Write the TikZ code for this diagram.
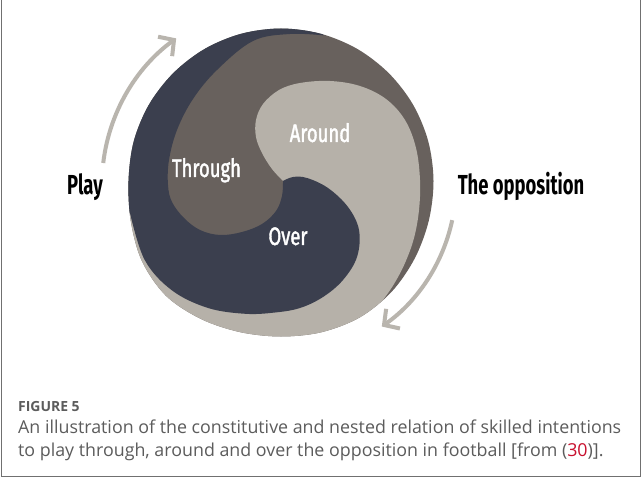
\documentclass[tikz,border=0pt]{standalone}
\usepackage{fontspec}
\setmainfont{Open Sans}
\newfontfamily\wlblfont[FakeStretch=0.73,FakeBold=1.5]{Fira Sans}
\newfontfamily\blblfont[FakeStretch=0.67]{Fira Sans}
\newfontfamily\capfont{Open Sans}
\usetikzlibrary{arrows.meta}
\definecolor{navy}{HTML}{3B3F4E}
\definecolor{dkgray}{HTML}{68615D}
\definecolor{ltgray}{HTML}{B6B1A9}
\definecolor{arrowgray}{HTML}{B9B5AE}
\definecolor{capgray}{HTML}{5C5C5C}
\definecolor{refred}{HTML}{C8102E}
\definecolor{framegray}{HTML}{707070}
\tikzset{
  whitelbl/.style={anchor=base, inner sep=0pt, text=white, font=\wlblfont\fontsize{25.4}{28}\selectfont},
  blacklbl/.style={anchor=base, inner sep=0pt, text=black, font=\blblfont\bfseries\fontsize{27.6}{30}\selectfont},
  captext/.style={anchor=base west, inner sep=0pt, text=capgray, font=\capfont\fontsize{17.9}{21}\selectfont},
  caphead/.style={anchor=base west, inner sep=0pt, text=capgray, font=\capfont\bfseries\fontsize{14}{16}\selectfont},
  turnarrow/.style={draw=arrowgray, line width=4bp, -{Straight Barb[length=11bp,width=24bp,line width=4bp]}},
}
\newcommand{\silpath}{plot[smooth cycle, tension=0.55] coordinates {(433.5,181) (428.8,220.6) (414.8,258.3) (391.7,291.7) (359.75,317.4) (321.5,332.2) (281,336.5) (240.5,332.2) (201.25,319.1) (166.1,295.9) (142,261.25) (130.8,221.2) (128.5,181) (133.7,141.5) (148.9,104.75) (173.2,73.2) (204.75,48.9) (241.5,33.7) (281,28.5) (320.5,33.7) (357.25,48.9) (388.8,73.2) (413.1,104.75) (428.3,141.5)}}
\begin{document}
\begin{tikzpicture}[x=1bp,y=-1bp]
\useasboundingbox (0,0) rectangle (642,482);
\fill[white] (0,0) rectangle (642,482);
% frame
\draw[framegray, line width=1.3bp] (1.5,0) -- (1.5,476.5) -- (640.5,476.5) -- (640.5,0);

% silhouette (dark gray base)
\fill[dkgray] \silpath;
\begin{scope}
\clip \silpath;
% light gray: Around
\fill[ltgray] (283,181) -- plot[smooth, tension=0.6] coordinates {(283,181) (272,169) (262,153) (256,137) (256,120) (263,104) (279,90) (300,83) (330,81) (360,86) (386,99) (405,120) (416,148) (420,180) (419,210) (414,238) (405,263) (394,284) (383,300) (370,318)} -- (420,380) -- (80,380) -- (80,213) -- (129,213) -- (200,268) -- (300,262) -- (312,200) -- cycle;
% navy: Over
\fill[navy] (323,35) -- (330,0) -- (80,0) -- (80,213) -- (130,213) -- plot[smooth, tension=0.6] coordinates {(130,213) (144.6,259.75) (171.75,290.2) (207.75,307.9) (245.4,313.8) (275,312.5) (300,308) (323,297) (343,280) (357,257) (359,230) (348,207) (328,188) (307,178) (293,177) (283,181)} -- plot[smooth, tension=0.6] coordinates {(283,181) (282,196) (276,211) (262,224) (242,232) (220,235) (200,230) (184,218) (172,202) (168,185) (169,160) (177,130) (193,99) (217,70) (253,41) (290,34) (325,35.5)} -- cycle;
\end{scope}

% labels
\node[whitelbl] (through) at (206.5,177) {Through};
\node[whitelbl] (around) at (320,142) {Around};
\node[whitelbl] (over) at (288,245) {Over};
\node[blacklbl] (play) at (85,195) {Play};
\node[blacklbl] (opp) at (521,195) {The opposition};

% arrows
\coordinate (ctr) at (282,184);
\draw[turnarrow] ([shift={(186.7:180)}]ctr) arc[start angle=186.7, end angle=234, radius=180];
\draw[turnarrow] ([shift={(12:174)}]ctr) arc[start angle=12, end angle=55, radius=174];

% caption
\node[caphead] (fig) at (18,411) {FIGURE 5};
\node[captext] (cap1) at (18,433) {An illustration of the constitutive and nested relation of skilled intentions};
\node[captext] (cap2) at (18,456) {to play through, around and over the opposition in football [from (\textcolor{refred}{30})].};
\end{tikzpicture}
\end{document}
